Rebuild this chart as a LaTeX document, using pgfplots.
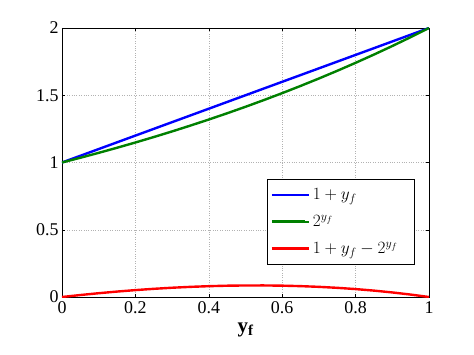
\documentclass[border=0pt]{standalone}
\usepackage{pgfplots}
\pgfplotsset{compat=1.18}
\usepackage{fontspec}
\setmainfont{Liberation Serif}
\definecolor{mblue}{rgb}{0,0,1}
\definecolor{mgreen}{rgb}{0,0.5,0}
\definecolor{mred}{rgb}{1,0,0}
\begin{document}
\begin{tikzpicture}[x=1bp,y=1bp]
\path[use as bounding box] (-62bp,-58bp) rectangle (412bp,297bp);
\begin{axis}[
  at={(0,0)}, anchor=south west,
  scale only axis, width=367bp, height=269bp,
  xmin=0, xmax=1, ymin=0, ymax=2,
  xtick={0,0.2,0.4,0.6,0.8,1},
  xticklabels={0,0.2,0.4,0.6,0.8,1},
  ytick={0,0.5,1,1.5,2},
  yticklabels={0,0.5,1,1.5,2},
  tick align=inside, major tick length=3bp,
  tick style={black, line width=0.4pt},
  axis line style={line width=0.8pt},
  grid=major,
  grid style={dotted, gray!60, line width=0.5pt},
  ticklabel style={font=\fontsize{18}{19}\selectfont},
  xticklabel style={yshift=-1bp},
  yticklabel style={xshift=0bp},
  xlabel={\fontsize{21}{22}\selectfont\textbf{y}\raisebox{-0.4ex}{\fontsize{15}{16}\selectfont\textbf{f}}},
  xlabel style={yshift=-2bp},
  legend style={at={(0.559,0.439)}, anchor=north west, draw=black, line width=0.6pt,
    font=\fontsize{18.5}{20}\selectfont, row sep=12bp, inner xsep=3bp, inner ysep=8.5bp,
    nodes={inner xsep=3bp, inner ysep=1bp},
    legend cell align=left},
  legend image code/.code={\path (0bp,0bp) -- (37bp,0bp);\draw[#1, line width=2.6bp] (0bp,0bp) -- (33bp,0bp);},
]
\addplot[mblue, line width=2.4bp] coordinates {(0,1) (1,2)};
\addlegendentry{$1+y_f$}
\addplot[mgreen, line width=2.4bp] coordinates {
(0,1) (0.05,1.0353) (0.1,1.0718) (0.15,1.1096) (0.2,1.1487) (0.25,1.1892)
(0.3,1.2311) (0.35,1.2746) (0.4,1.3195) (0.45,1.3660) (0.5,1.4142)
(0.55,1.4641) (0.6,1.5157) (0.65,1.5692) (0.7,1.6245) (0.75,1.6818)
(0.8,1.7411) (0.85,1.8025) (0.9,1.8661) (0.95,1.9319) (1,2)};
\addlegendentry{$2^{y_f}$}
\addplot[mred, line width=2.4bp] coordinates {
(0,0) (0.05,0.0147) (0.1,0.0282) (0.15,0.0404) (0.2,0.0513) (0.25,0.0608)
(0.3,0.0689) (0.35,0.0754) (0.4,0.0805) (0.45,0.0840) (0.5,0.0858)
(0.55,0.0859) (0.6,0.0843) (0.65,0.0808) (0.7,0.0755) (0.75,0.0682)
(0.8,0.0589) (0.85,0.0475) (0.9,0.0339) (0.95,0.0181) (1,0)};
\addlegendentry{$1+y_f-2^{y_f}$\hspace*{11bp}}
\end{axis}
\end{tikzpicture}
\end{document}
